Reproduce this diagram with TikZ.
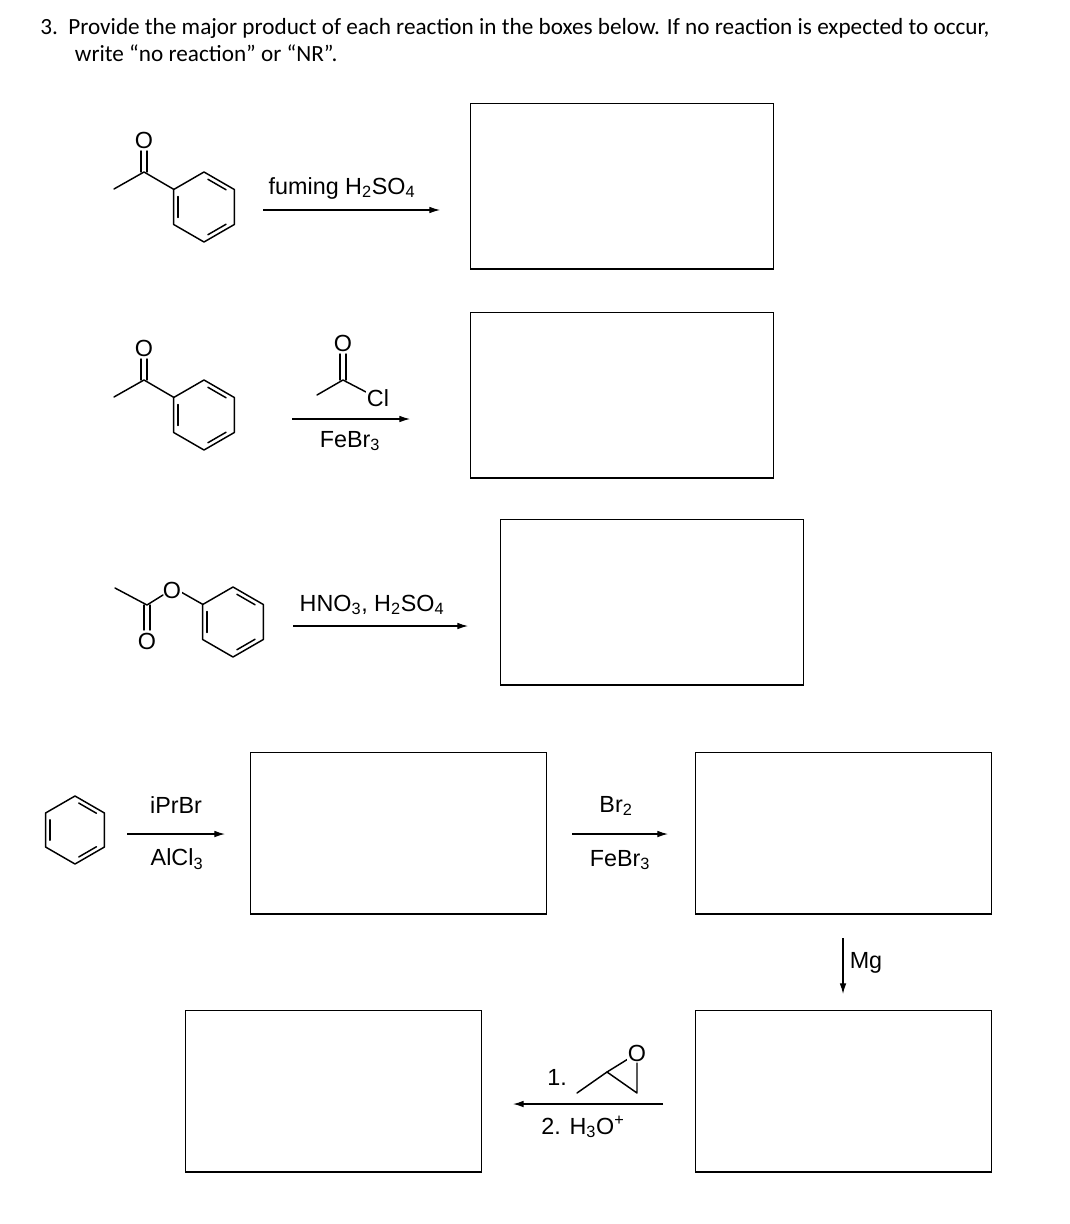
\documentclass[tikz,border=0pt]{standalone}
\usepackage{fontspec}
\setmainfont{Liberation Sans}
\newfontfamily\hdr{Carlito}
\usetikzlibrary{arrows.meta,calc}
\newcommand{\sbs}[1]{\textsubscript{#1}}
\newcommand{\sps}[1]{\textsuperscript{#1}}
\tikzset{bond/.style={line width=1.1pt,line cap=round,line join=round},
 box/.style={draw,line width=1pt},
 rxn/.style={line width=0.9pt,-{Latex[length=8pt,width=5pt]}},
 lab/.style={font=\fontsize{17.5}{20}\selectfont,inner sep=1pt},
 atom/.style={font=\fontsize{17.5}{19}\selectfont,inner sep=0.5pt,fill=white}}
\newcommand{\benz}[3]{%
 \draw[bond] (#1,#2) ++(90:#3) -- ++(330:#3) -- ++(270:#3) -- ++(210:#3) -- ++(150:#3) -- ++(90:#3) -- cycle;
 \foreach \a/\b in {90/30,330/270,210/150}{
  \draw[bond] ($(#1,#2)+(\a-8:0.8*#3)$) -- ($(#1,#2)+(\b+8:0.8*#3)$);}
}
\begin{document}
\begin{tikzpicture}[x=0.75pt,y=-0.75pt]
\useasboundingbox (0,0) rectangle (1070,1224);
\node[anchor=north west,align=left,inner sep=0,font=\hdr\fontsize{17.4}{20.5}\selectfont] (hd) at (40,18)
 {3.\ \ Provide the major product of each reaction in the boxes below. If no reaction is expected to occur,\\
 \hspace*{26pt}write “no reaction” or “NR”.};
% boxes
\node[box,minimum width=227pt,minimum height=124pt,anchor=north west] (b1) at (470,103) {};
\node[box,minimum width=227pt,minimum height=124pt,anchor=north west] (b2) at (470,312) {};
\node[box,minimum width=227pt,minimum height=124pt,anchor=north west] (b3) at (500,519) {};
\node[box,minimum width=222pt,minimum height=121pt,anchor=north west] (b4) at (250,752) {};
\node[box,minimum width=222pt,minimum height=121pt,anchor=north west] (b5) at (695,752) {};
\node[box,minimum width=222pt,minimum height=121pt,anchor=north west] (b6) at (185,1010) {};
\node[box,minimum width=222pt,minimum height=121pt,anchor=north west] (b7) at (695,1010) {};
% molecule 1 and 2
\foreach \yy in {0,208}{
 \benz{204}{207+\yy}{35}
 \draw[bond] (174,189.5+\yy) -- (144,172+\yy) -- (114,189+\yy);
 \node[atom] at (144,140+\yy) {O};
 \draw[bond] (141,172+\yy) -- (141,151+\yy);
 \draw[bond] (147,172+\yy) -- (147,151+\yy);
}
% arrow 1
\coordinate (a1s) at (263,210); \coordinate (a1e) at (440,210);
\draw[rxn] (a1s) -- (a1e);
\node[lab] (l1) at (342,188) {fuming H\sbs{2}SO\sbs{4}};
% acyl chloride
\draw[bond] (317,395) -- (343,380) -- (366,392);
\node[atom] (cl) at (378,398) {Cl};
\node[atom] (o2) at (343,343) {O};
\draw[bond] (340,380) -- (340,354); \draw[bond] (346,380) -- (346,354);
\coordinate (a2s) at (292,419); \coordinate (a2e) at (410,419);
\draw[rxn] (a2s) -- (a2e);
\node[lab] (l2) at (350,441) {FeBr\sbs{3}};
% molecule 3
\benz{233}{622}{35}
\draw[bond] (203,604.5) -- (181,592);
\node[atom] (o3) at (172,590) {O};
\draw[bond] (163,595) -- (147,605) -- (115,588);
\draw[bond] (144,605) -- (144,630); \draw[bond] (150,605) -- (150,630);
\node[atom] (o4) at (147,641) {O};
\coordinate (a3s) at (293,626); \coordinate (a3e) at (468,626);
\draw[rxn] (a3s) -- (a3e);
\node[lab] (l3) at (372,605) {HNO\sbs{3}, H\sbs{2}SO\sbs{4}};
% benzene
\benz{75}{830}{34}
\coordinate (a4s) at (127,834); \coordinate (a4e) at (225,834);
\draw[rxn] (a4s) -- (a4e);
\node[lab] at (176,805) {iPrBr};
\node[lab] at (177,859) {AlCl\sbs{3}};
\coordinate (a5s) at (572,834); \coordinate (a5e) at (668,834);
\draw[rxn] (a5s) -- (a5e);
\node[lab] at (616,806) {Br\sbs{2}};
\node[lab] at (620,860) {FeBr\sbs{3}};
\coordinate (a6s) at (843,938); \coordinate (a6e) at (843,994);
\draw[rxn] (a6s) -- (a6e);
\node[lab] at (866,963) {Mg};
\coordinate (a7s) at (663,1104); \coordinate (a7e) at (513,1104);
\draw[rxn] (a7s) -- (a7e);
\node[lab] at (557,1077) {1.};
\draw[bond] (577,1093) -- (607,1072) -- (628,1059);
\node[atom] at (637,1053) {O};
\draw[bond] (607,1072) -- (637,1093) -- (637,1063);
\node[lab] at (583,1127) {2. H\sbs{3}O\sps{+}};
\end{tikzpicture}
\end{document}
